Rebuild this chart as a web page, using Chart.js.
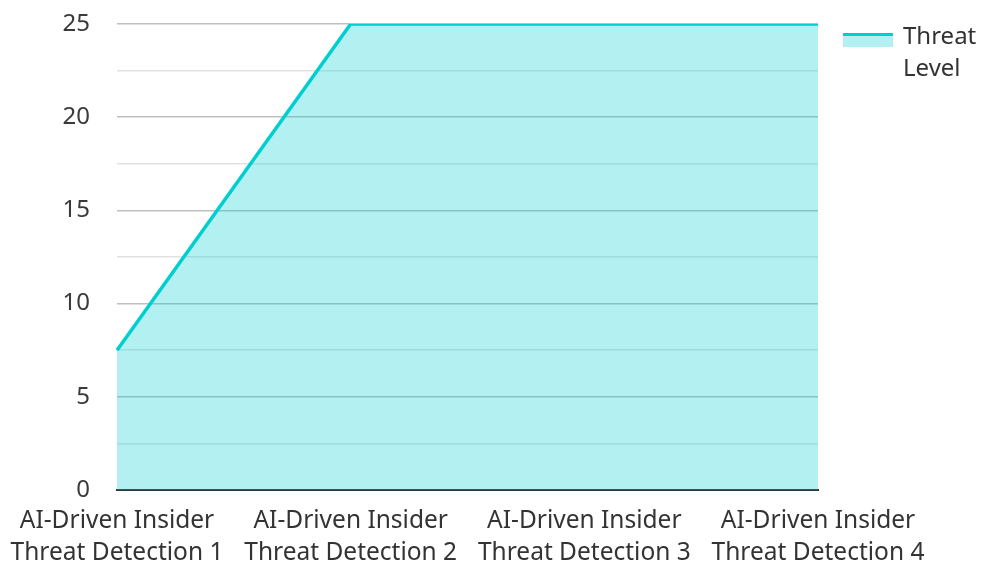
<!DOCTYPE html>
<html>
<head>
<meta charset="utf-8">
<script src="https://cdn.jsdelivr.net/npm/chart.js@4/dist/chart.umd.min.js"></script>
<style>
  html, body { margin: 0; padding: 0; background: #fff; }
  #wrap { width: 981px; height: 562px; }
</style>
</head>
<body>
<div id="wrap"><canvas id="threatChart"></canvas></div>
<script>
const categories = [
    ['AI-Driven Insider', 'Threat Detection 1'],
    ['AI-Driven Insider', 'Threat Detection 2'],
    ['AI-Driven Insider', 'Threat Detection 3'],
    ['AI-Driven Insider', 'Threat Detection 4']
];
const threatLevel = [7.5, 25, 25, 25];
const seriesName = 'Threat Level';
const yMax = 25;
const yStep = 2.5;

const lineColor = '#00CED1';
const fillColor = 'rgba(0, 206, 209, 0.3)';
const fontFamily = '"Noto Sans", "Open Sans", sans-serif';

// legend drawn by hand so the label can wrap onto two lines
const sideLegend = {
    id: 'sideLegend',
    afterDraw(chart) {
        const c = chart.ctx;
        const x = chart.chartArea.right + 25;
        const y = 33;
        c.save();
        c.fillStyle = fillColor;
        c.fillRect(x, y, 50, 14);
        c.strokeStyle = lineColor;
        c.lineWidth = 3;
        c.beginPath();
        c.moveTo(x, y + 1.5);
        c.lineTo(x + 50, y + 1.5);
        c.stroke();
        c.fillStyle = '#333';
        c.font = '24px ' + fontFamily;
        c.textBaseline = 'middle';
        seriesName.split(' ').forEach((word, i) => {
            c.fillText(word, x + 60, 37 + i * 32);
        });
        c.restore();
    }
};

const ctx = document.getElementById('threatChart').getContext('2d');
new Chart(ctx, {
    type: 'line',
    data: {
        labels: categories,
        datasets: [{
            label: seriesName,
            data: threatLevel,
            borderColor: lineColor,
            backgroundColor: fillColor,
            borderWidth: 3.5,
            fill: 'origin',
            tension: 0,
            pointRadius: 0
        }]
    },
    options: {
        responsive: true,
        maintainAspectRatio: false,
        animation: false,
        layout: { padding: { top: 24, right: 163, left: 0, bottom: 0 } },
        plugins: {
            legend: { display: false },
            tooltip: { enabled: false }
        },
        scales: {
            x: {
                offset: false,
                grid: { display: false, drawTicks: false },
                border: { display: true, color: '#333', width: 2 },
                ticks: {
                    color: '#333',
                    font: { family: fontFamily, size: 24.5, lineHeight: 1.3 },
                    padding: 15,
                    maxRotation: 0,
                    autoSkip: false
                },
                afterFit(scale) {
                    scale.height = 72;
                    scale.paddingLeft = 0;
                    scale.paddingRight = 0;
                }
            },
            y: {
                min: 0,
                max: yMax,
                border: { display: false },
                grid: {
                    drawTicks: false,
                    color: c => (c.tick && c.tick.value % 5 === 0) ? '#c0c0c0' : '#e2e2e2',
                    lineWidth: 1.5
                },
                ticks: {
                    stepSize: yStep,
                    color: '#3a3a3a',
                    font: { family: fontFamily, size: 24 },
                    padding: 27,
                    callback: v => v % 5 === 0 ? v : ''
                },
                afterFit(scale) {
                    scale.width = 117;
                    scale.paddingTop = 0;
                    scale.paddingBottom = 0;
                }
            }
        }
    },
    plugins: [sideLegend]
});
</script>
</body>
</html>
